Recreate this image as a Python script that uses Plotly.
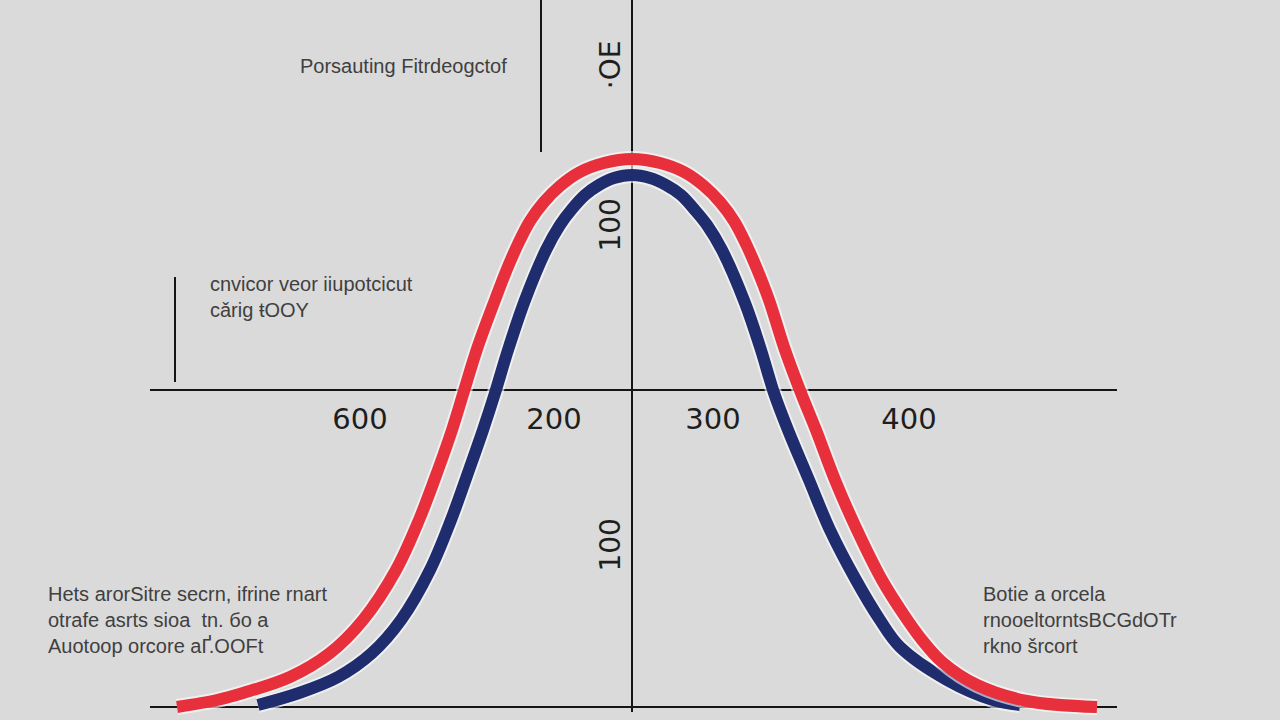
import plotly.graph_objects as go

# curves: x = offset from the centre line, y = height above the baseline
red_x = [-455, -415, -389, -342, -302, -269, -236, -213, -194, -180,
         -168, -155, -137, -125, -114, -102, -88, -72, -52,
         -28, 0,
         28, 52, 72, 88, 102, 114, 125, 137, 153, 169,
         184, 203, 225, 250, 272, 290, 310, 345, 395, 465]
red_y = [0, 7, 14, 30, 54, 87, 137, 187, 237, 277,
         316, 358, 407, 438, 463, 486, 505, 521, 535,
         544, 548,
         544, 535, 521, 505, 486, 463, 438, 407, 357, 314,
         277, 227, 177, 127, 92, 67, 45, 22, 6, 0]

blue_x = [-374, -333, -294, -260, -231, -202, -181, -163, -149, -137,
          -124, -107, -86, -72, -60, -47, -33, -18, 0,
          18, 34, 49, 62, 75, 90, 113, 129, 142,
          156, 177, 198, 224, 248, 268, 315, 361, 388]
blue_y = [2, 14, 30, 54, 87, 137, 187, 237, 277, 314,
          357, 407, 457, 482, 498, 512, 522, 529, 532,
          529, 522, 512, 498, 482, 457, 404, 357, 314,
          277, 227, 177, 127, 87, 60, 27, 7, 2]

# axis tick labels (as printed)
x_tick_vals = [-272, -78, 81, 277]
x_tick_text = ["600", "200", "300", "400"]
y_tick_vals = [638, 478, 158]
y_tick_text = ["·OE", "100", "100"]

# guide lines: (x0, x1, y0, y1)
mid_axis = (-482, 485, 317, 317)
base_axis = (-482, 485, 0, 0)
centre_axis = (0, 0, -5, 720)
top_bar = (-91, -91, 555, 720)
left_bar = (-457, -457, 325, 430)

BG = "#dadada"
RED = "#e8303c"
BLUE = "#1f2d6e"
FONT = "Liberation Sans"

fig = go.Figure()

for xs, ys, col in [(blue_x, blue_y, BLUE), (red_x, red_y, RED)]:
    fig.add_trace(go.Scatter(x=xs, y=ys, mode="lines",
                             line=dict(color="rgba(255,255,255,0.6)", width=16,
                                       shape="spline", smoothing=1.0),
                             hoverinfo="skip", showlegend=False))
    fig.add_trace(go.Scatter(x=xs, y=ys, mode="lines",
                             line=dict(color=col, width=12, shape="spline", smoothing=1.0),
                             showlegend=False))

for (x0, x1, y0, y1), w in [(mid_axis, 2.2), (base_axis, 2.2), (centre_axis, 2),
                            (top_bar, 2), (left_bar, 2)]:
    fig.add_shape(type="line", xref="x", yref="y", x0=x0, x1=x1, y0=y0, y1=y1,
                  line=dict(color="#151515", width=w), layer="below")

txt = dict(family=FONT, size=20, color="#404040")
blocks = [
    (298 / 1280, 1 - 66 / 720, "Porsauting Fitrdeogctof"),
    (208 / 1280, 1 - 297 / 720, "cnvicor veor iiupotcicut<br>cǎrig ŧOOY"),
    (46 / 1280, 1 - 620 / 720,
     "Hets arorSitre secrn, ifrine rnart<br>otrafe asrts sioa  tn. бо a<br>Auotoop orcore aҐ.OOFt"),
    (981 / 1280, 1 - 620 / 720, "Botie a orcela<br>rnooeltorntsBCGdOTr<br>rkno šrcort"),
]
for x, y, t in blocks:
    fig.add_annotation(x=x, y=y, xref="paper", yref="paper", text=t, showarrow=False,
                       xanchor="left", yanchor="middle", align="left", font=txt)

fig.update_layout(
    width=1280, height=720,
    margin=dict(l=0, r=0, t=0, b=0),
    paper_bgcolor=BG, plot_bgcolor=BG,
    xaxis=dict(range=[-632, 648], showgrid=False, zeroline=False, showline=False,
               tickvals=x_tick_vals, ticktext=x_tick_text,
               ticks="outside", ticklen=3, tickcolor="rgba(0,0,0,0)",
               tickfont=dict(family="DejaVu Sans", size=29, color="#1e1e1e"),
               anchor="free", position=(720 - 390) / 720),
    yaxis=dict(range=[-13, 707], showgrid=False, zeroline=False, showline=False,
               tickvals=y_tick_vals, ticktext=y_tick_text, tickangle=-90,
               ticks="outside", ticklen=1, tickcolor="rgba(0,0,0,0)",
               tickfont=dict(family="DejaVu Sans", size=28, color="#1e1e1e"),
               anchor="free", position=632 / 1280, side="left"),
)

fig.write_html("out.html", config={"displayModeBar": False},
               post_script="document.body.style.margin='0';")
